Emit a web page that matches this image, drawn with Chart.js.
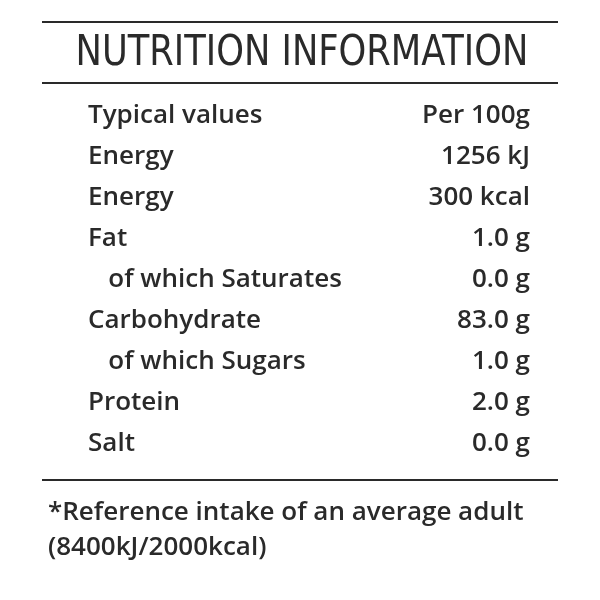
<!DOCTYPE html>
<html><head><meta charset="utf-8">
<script src="https://cdn.jsdelivr.net/npm/chart.js@4/dist/chart.umd.min.js"></script>
<style>html,body{margin:0;background:#fff}#w{width:600px;height:600px}</style>
</head><body><div id="w"><canvas id="c"></canvas></div>
<script>
const titleText = "NUTRITION INFORMATION";
const rowLabels = ["Typical values","Energy","Energy","Fat","   of which Saturates","Carbohydrate","   of which Sugars","Protein","Salt"];
const rowValues = ["Per 100g","1256 kJ","300 kcal","1.0 g","0.0 g","83.0 g","1.0 g","2.0 g","0.0 g"];
const footnote = ["*Reference intake of an average adult","(8400kJ/2000kcal)"];
const amounts = [0,0,0,0,0,0,0,0,0];

const FONT = "'Open Sans', Lato, sans-serif";
const ink = "#2a2a2a";
const deco = {
  id:'deco',
  afterDraw(ch){
    const c = ch.ctx; c.save();
    c.strokeStyle = ink; c.lineWidth = 2;
    [22,83,480].forEach(y=>{c.beginPath();c.moveTo(42,y);c.lineTo(558,y);c.stroke();});
    c.fillStyle = ink; c.textBaseline='middle';
    c.font = "40px 'DejaVu Sans Condensed',sans-serif";
    c.textAlign='center';
    c.save(); c.translate(302,54); c.scale(0.98,1.05); c.fillText(titleText,0,0); c.restore();
    c.font = "600 26px " + FONT; c.textAlign='left';
    c.fillText(footnote[0],48,513); c.fillText(footnote[1],48,548);
    c.restore();
  }
};
new Chart(document.getElementById('c'),{
  type:'bar',
  data:{labels:rowLabels,datasets:[{data:amounts,backgroundColor:'rgba(0,0,0,0)',yAxisID:'y'}]},
  plugins:[deco],
  options:{
    responsive:true, maintainAspectRatio:false, animation:false,
    indexAxis:'y',
    layout:{padding:{top:95,bottom:136,left:88,right:78}},
    plugins:{legend:{display:false},tooltip:{enabled:false}},
    scales:{
      x:{display:false},
      y:{type:'category',labels:rowLabels,position:'left',grid:{display:false},border:{display:false},
         afterFit(s){s.width=312;},
         ticks:{crossAlign:'far',color:ink,font:{family:FONT,size:26,weight:'600'},padding:0}},
      y2:{type:'category',labels:rowValues,position:'right',grid:{display:false},border:{display:false},
         afterFit(s){s.width=130;},
         ticks:{crossAlign:'far',color:ink,font:{family:FONT,size:26,weight:'600'},padding:0}}
    }
  }
});
</script></body></html>
